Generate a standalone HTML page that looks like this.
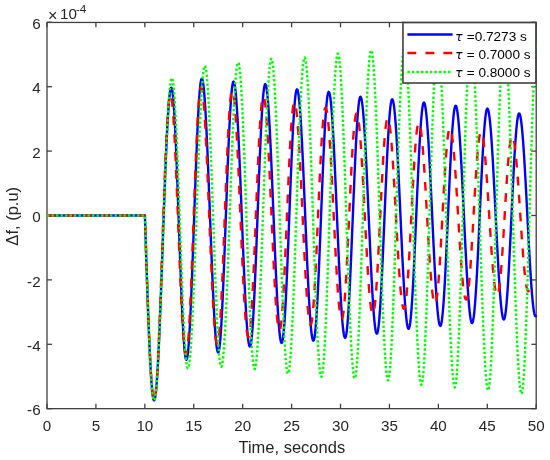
<!DOCTYPE html>
<html><head><meta charset="utf-8"><title>Frequency deviation</title>
<style>
html,body{margin:0;padding:0;background:#fff;}
svg{display:block;}
text{font-family:"Liberation Sans",Arial,Helvetica,sans-serif;}
</style></head><body>
<svg width="550" height="460" viewBox="0 0 550 460">
<rect x="0" y="0" width="550" height="460" fill="#ffffff"/>
<defs><clipPath id="ax"><rect x="47.0" y="22.45" width="490.50" height="386.2"/></clipPath></defs>

<g stroke="#404040" stroke-width="1.3" fill="none">
<rect x="47.0" y="22.45" width="489.20" height="386.20"/>
<line x1="47.00" y1="408.65" x2="47.00" y2="403.75"/>
<line x1="47.00" y1="22.45" x2="47.00" y2="27.35"/>
<line x1="95.92" y1="408.65" x2="95.92" y2="403.75"/>
<line x1="95.92" y1="22.45" x2="95.92" y2="27.35"/>
<line x1="144.84" y1="408.65" x2="144.84" y2="403.75"/>
<line x1="144.84" y1="22.45" x2="144.84" y2="27.35"/>
<line x1="193.76" y1="408.65" x2="193.76" y2="403.75"/>
<line x1="193.76" y1="22.45" x2="193.76" y2="27.35"/>
<line x1="242.68" y1="408.65" x2="242.68" y2="403.75"/>
<line x1="242.68" y1="22.45" x2="242.68" y2="27.35"/>
<line x1="291.60" y1="408.65" x2="291.60" y2="403.75"/>
<line x1="291.60" y1="22.45" x2="291.60" y2="27.35"/>
<line x1="340.52" y1="408.65" x2="340.52" y2="403.75"/>
<line x1="340.52" y1="22.45" x2="340.52" y2="27.35"/>
<line x1="389.44" y1="408.65" x2="389.44" y2="403.75"/>
<line x1="389.44" y1="22.45" x2="389.44" y2="27.35"/>
<line x1="438.36" y1="408.65" x2="438.36" y2="403.75"/>
<line x1="438.36" y1="22.45" x2="438.36" y2="27.35"/>
<line x1="487.28" y1="408.65" x2="487.28" y2="403.75"/>
<line x1="487.28" y1="22.45" x2="487.28" y2="27.35"/>
<line x1="536.20" y1="408.65" x2="536.20" y2="403.75"/>
<line x1="536.20" y1="22.45" x2="536.20" y2="27.35"/>
<line x1="47.0" y1="408.70" x2="51.9" y2="408.70"/>
<line x1="536.2" y1="408.70" x2="531.3000000000001" y2="408.70"/>
<line x1="47.0" y1="344.30" x2="51.9" y2="344.30"/>
<line x1="536.2" y1="344.30" x2="531.3000000000001" y2="344.30"/>
<line x1="47.0" y1="279.90" x2="51.9" y2="279.90"/>
<line x1="536.2" y1="279.90" x2="531.3000000000001" y2="279.90"/>
<line x1="47.0" y1="215.50" x2="51.9" y2="215.50"/>
<line x1="536.2" y1="215.50" x2="531.3000000000001" y2="215.50"/>
<line x1="47.0" y1="151.10" x2="51.9" y2="151.10"/>
<line x1="536.2" y1="151.10" x2="531.3000000000001" y2="151.10"/>
<line x1="47.0" y1="86.70" x2="51.9" y2="86.70"/>
<line x1="536.2" y1="86.70" x2="531.3000000000001" y2="86.70"/>
<line x1="47.0" y1="22.30" x2="51.9" y2="22.30"/>
<line x1="536.2" y1="22.30" x2="531.3000000000001" y2="22.30"/>
</g>
<g clip-path="url(#ax)" fill="none" stroke-linejoin="round">
<path d="M47.00,215.50 L144.90,215.50 L145.22,225.51 L145.53,235.48 L145.85,245.40 L146.17,255.23 L146.49,264.95 L146.80,274.52 L147.12,283.91 L147.44,293.11 L147.76,302.07 L148.07,310.79 L148.39,319.22 L148.71,327.35 L149.02,335.16 L149.34,342.61 L149.66,349.68 L149.98,356.37 L150.29,362.64 L150.61,368.48 L150.93,373.87 L151.24,378.80 L151.56,383.25 L151.88,387.20 L152.20,390.65 L152.51,393.59 L152.83,396.01 L153.15,397.89 L153.47,399.24 L153.78,400.06 L154.10,400.33 L154.51,399.89 L154.92,398.58 L155.33,396.41 L155.74,393.38 L156.15,389.52 L156.56,384.85 L156.97,379.38 L157.38,373.16 L157.79,366.22 L158.20,358.60 L158.60,350.33 L159.01,341.47 L159.42,332.06 L159.83,322.16 L160.24,311.83 L160.65,301.11 L161.06,290.08 L161.47,278.78 L161.88,267.30 L162.29,255.68 L162.70,244.00 L163.11,232.31 L163.52,220.70 L163.93,209.21 L164.34,197.92 L164.75,186.88 L165.16,176.17 L165.57,165.83 L165.98,155.93 L166.39,146.53 L166.80,137.66 L167.20,129.40 L167.61,121.77 L168.02,114.83 L168.43,108.61 L168.84,103.15 L169.25,98.47 L169.66,94.61 L170.07,91.59 L170.48,89.41 L170.89,88.10 L171.30,87.67 L171.72,88.18 L172.14,89.73 L172.56,92.30 L172.98,95.87 L173.40,100.41 L173.82,105.89 L174.24,112.27 L174.66,119.49 L175.08,127.51 L175.49,136.26 L175.91,145.68 L176.33,155.69 L176.75,166.22 L177.17,177.18 L177.59,188.50 L178.01,200.09 L178.43,211.85 L178.85,223.71 L179.27,235.57 L179.69,247.33 L180.11,258.92 L180.53,270.24 L180.95,281.21 L181.37,291.73 L181.79,301.74 L182.21,311.16 L182.62,319.91 L183.04,327.93 L183.46,335.15 L183.88,341.53 L184.30,347.01 L184.72,351.55 L185.14,355.12 L185.56,357.69 L185.98,359.24 L186.40,359.76 L186.82,359.25 L187.23,357.73 L187.65,355.22 L188.06,351.73 L188.48,347.28 L188.90,341.91 L189.31,335.65 L189.73,328.56 L190.15,320.68 L190.56,312.06 L190.98,302.78 L191.39,292.90 L191.81,282.48 L192.23,271.61 L192.64,260.36 L193.06,248.81 L193.48,237.06 L193.89,225.17 L194.31,213.24 L194.72,201.35 L195.14,189.59 L195.56,178.05 L195.97,166.80 L196.39,155.93 L196.81,145.51 L197.22,135.63 L197.64,126.34 L198.05,117.73 L198.47,109.85 L198.89,102.75 L199.30,96.50 L199.72,91.13 L200.14,86.68 L200.55,83.19 L200.97,80.67 L201.38,79.16 L201.80,78.65 L202.22,79.09 L202.64,80.42 L203.06,82.63 L203.48,85.69 L203.89,89.60 L204.31,94.33 L204.73,99.84 L205.15,106.10 L205.57,113.07 L205.99,120.70 L206.41,128.95 L206.83,137.76 L207.25,147.07 L207.67,156.83 L208.08,166.97 L208.50,177.43 L208.92,188.13 L209.34,199.00 L209.76,209.99 L210.18,221.01 L210.60,232.00 L211.02,242.87 L211.44,253.57 L211.86,264.03 L212.27,274.17 L212.69,283.92 L213.11,293.24 L213.53,302.05 L213.95,310.30 L214.37,317.93 L214.79,324.90 L215.21,331.16 L215.63,336.67 L216.05,341.40 L216.46,345.31 L216.88,348.37 L217.30,350.58 L217.72,351.91 L218.14,352.35 L218.56,351.86 L218.97,350.40 L219.39,347.98 L219.80,344.62 L220.22,340.33 L220.64,335.16 L221.05,329.13 L221.47,322.30 L221.88,314.70 L222.30,306.41 L222.72,297.46 L223.13,287.94 L223.55,277.91 L223.96,267.43 L224.38,256.60 L224.80,245.48 L225.21,234.15 L225.63,222.70 L226.04,211.20 L226.46,199.75 L226.87,188.42 L227.29,177.30 L227.71,166.46 L228.12,155.99 L228.54,145.96 L228.95,136.44 L229.37,127.49 L229.79,119.20 L230.20,111.60 L230.62,104.77 L231.03,98.74 L231.45,93.57 L231.87,89.28 L232.28,85.92 L232.70,83.50 L233.11,82.04 L233.53,81.55 L233.95,81.98 L234.37,83.26 L234.79,85.40 L235.21,88.37 L235.63,92.15 L236.05,96.73 L236.46,102.06 L236.88,108.12 L237.30,114.87 L237.72,122.26 L238.14,130.25 L238.56,138.78 L238.98,147.80 L239.40,157.25 L239.82,167.06 L240.24,177.19 L240.66,187.55 L241.08,198.08 L241.50,208.72 L241.91,219.39 L242.33,230.02 L242.75,240.56 L243.17,250.92 L243.59,261.04 L244.01,270.85 L244.43,280.30 L244.85,289.32 L245.27,297.85 L245.69,305.84 L246.11,313.23 L246.53,319.98 L246.95,326.04 L247.36,331.38 L247.78,335.95 L248.20,339.73 L248.62,342.70 L249.04,344.84 L249.46,346.12 L249.88,346.55 L250.30,346.08 L250.71,344.67 L251.13,342.32 L251.54,339.06 L251.96,334.91 L252.37,329.89 L252.79,324.05 L253.21,317.43 L253.62,310.07 L254.04,302.03 L254.45,293.36 L254.87,284.14 L255.28,274.41 L255.70,264.26 L256.12,253.76 L256.53,242.98 L256.95,232.01 L257.36,220.91 L257.78,209.77 L258.19,198.67 L258.61,187.69 L259.02,176.92 L259.44,166.41 L259.86,156.27 L260.27,146.54 L260.69,137.31 L261.10,128.65 L261.52,120.61 L261.93,113.25 L262.35,106.63 L262.77,100.79 L263.18,95.77 L263.60,91.62 L264.01,88.36 L264.43,86.01 L264.84,84.60 L265.26,84.12 L265.68,84.54 L266.10,85.80 L266.52,87.89 L266.94,90.79 L267.36,94.48 L267.78,98.95 L268.20,104.16 L268.62,110.08 L269.04,116.68 L269.45,123.90 L269.87,131.70 L270.29,140.04 L270.71,148.85 L271.13,158.08 L271.55,167.67 L271.97,177.55 L272.39,187.68 L272.81,197.97 L273.23,208.36 L273.65,218.78 L274.07,229.17 L274.49,239.46 L274.91,249.58 L275.33,259.47 L275.75,269.06 L276.17,278.29 L276.59,287.10 L277.01,295.43 L277.43,303.24 L277.84,310.46 L278.26,317.05 L278.68,322.97 L279.10,328.18 L279.52,332.65 L279.94,336.35 L280.36,339.25 L280.78,341.34 L281.20,342.59 L281.62,343.01 L282.04,342.55 L282.45,341.19 L282.87,338.92 L283.28,335.76 L283.70,331.75 L284.11,326.90 L284.53,321.26 L284.94,314.85 L285.36,307.74 L285.77,299.96 L286.19,291.58 L286.60,282.66 L287.02,273.26 L287.44,263.45 L287.85,253.29 L288.27,242.87 L288.68,232.26 L289.10,221.53 L289.51,210.76 L289.93,200.03 L290.34,189.42 L290.76,178.99 L291.17,168.84 L291.59,159.03 L292.01,149.63 L292.42,140.70 L292.84,132.33 L293.25,124.55 L293.67,117.44 L294.08,111.03 L294.50,105.39 L294.91,100.54 L295.33,96.52 L295.74,93.37 L296.16,91.10 L296.57,89.73 L296.99,89.28 L297.41,89.68 L297.83,90.90 L298.25,92.93 L298.67,95.75 L299.09,99.34 L299.51,103.68 L299.93,108.74 L300.35,114.49 L300.77,120.90 L301.19,127.91 L301.61,135.49 L302.03,143.59 L302.45,152.15 L302.87,161.11 L303.29,170.43 L303.71,180.03 L304.13,189.87 L304.55,199.86 L304.97,209.95 L305.38,220.08 L305.80,230.17 L306.22,240.17 L306.64,250.00 L307.06,259.61 L307.48,268.92 L307.90,277.89 L308.32,286.45 L308.74,294.54 L309.16,302.12 L309.58,309.14 L310.00,315.54 L310.42,321.29 L310.84,326.36 L311.26,330.70 L311.68,334.29 L312.10,337.10 L312.52,339.13 L312.94,340.35 L313.36,340.76 L313.78,340.31 L314.19,338.97 L314.61,336.74 L315.02,333.65 L315.44,329.71 L315.85,324.95 L316.27,319.42 L316.68,313.13 L317.10,306.15 L317.51,298.53 L317.93,290.31 L318.34,281.56 L318.76,272.33 L319.17,262.71 L319.59,252.75 L320.00,242.52 L320.42,232.11 L320.83,221.59 L321.25,211.02 L321.66,200.50 L322.08,190.09 L322.49,179.86 L322.91,169.90 L323.32,160.28 L323.74,151.05 L324.15,142.30 L324.57,134.08 L324.98,126.46 L325.40,119.48 L325.81,113.19 L326.23,107.66 L326.64,102.90 L327.06,98.96 L327.47,95.87 L327.89,93.64 L328.30,92.30 L328.72,91.85 L329.14,92.25 L329.56,93.44 L329.98,95.43 L330.40,98.18 L330.82,101.69 L331.24,105.94 L331.66,110.89 L332.08,116.52 L332.50,122.79 L332.92,129.65 L333.34,137.06 L333.76,144.98 L334.18,153.35 L334.60,162.13 L335.02,171.24 L335.44,180.63 L335.86,190.25 L336.28,200.03 L336.70,209.90 L337.12,219.81 L337.54,229.68 L337.96,239.46 L338.38,249.08 L338.80,258.47 L339.22,267.59 L339.64,276.36 L340.06,284.73 L340.48,292.65 L340.90,300.06 L341.32,306.93 L341.74,313.19 L342.16,318.82 L342.58,323.77 L343.00,328.02 L343.42,331.53 L343.84,334.29 L344.26,336.27 L344.68,337.46 L345.10,337.86 L345.51,337.43 L345.93,336.13 L346.34,333.97 L346.76,330.97 L347.17,327.16 L347.59,322.55 L348.00,317.18 L348.42,311.09 L348.83,304.33 L349.25,296.94 L349.66,288.98 L350.08,280.50 L350.49,271.56 L350.91,262.23 L351.32,252.58 L351.74,242.68 L352.15,232.59 L352.57,222.39 L352.98,212.15 L353.40,201.95 L353.81,191.87 L354.23,181.96 L354.64,172.31 L355.06,162.98 L355.47,154.05 L355.89,145.56 L356.30,137.60 L356.72,130.21 L357.13,123.45 L357.55,117.36 L357.96,112.00 L358.38,107.39 L358.79,103.57 L359.21,100.57 L359.62,98.42 L360.04,97.12 L360.45,96.68 L360.87,97.07 L361.29,98.22 L361.71,100.13 L362.13,102.78 L362.55,106.16 L362.97,110.26 L363.39,115.03 L363.81,120.45 L364.23,126.48 L364.65,133.09 L365.07,140.24 L365.49,147.86 L365.91,155.93 L366.33,164.38 L366.75,173.16 L367.17,182.21 L367.59,191.48 L368.01,200.89 L368.43,210.41 L368.86,219.95 L369.28,229.46 L369.70,238.88 L370.12,248.15 L370.54,257.20 L370.96,265.98 L371.38,274.43 L371.80,282.49 L372.22,290.12 L372.64,297.26 L373.06,303.87 L373.48,309.91 L373.90,315.33 L374.32,320.10 L374.74,324.19 L375.16,327.58 L375.58,330.23 L376.00,332.14 L376.42,333.29 L376.84,333.67 L377.25,333.25 L377.67,331.99 L378.08,329.89 L378.50,326.98 L378.91,323.27 L379.33,318.79 L379.74,313.57 L380.16,307.66 L380.57,301.09 L380.99,293.90 L381.40,286.16 L381.82,277.92 L382.23,269.23 L382.64,260.17 L383.06,250.79 L383.47,241.16 L383.89,231.35 L384.30,221.44 L384.72,211.49 L385.13,201.58 L385.55,191.77 L385.96,182.14 L386.38,172.76 L386.79,163.70 L387.20,155.01 L387.62,146.77 L388.03,139.03 L388.45,131.85 L388.86,125.27 L389.28,119.36 L389.69,114.14 L390.11,109.66 L390.52,105.95 L390.94,103.04 L391.35,100.94 L391.77,99.68 L392.18,99.26 L392.60,99.63 L393.02,100.74 L393.44,102.59 L393.86,105.17 L394.28,108.44 L394.70,112.41 L395.12,117.03 L395.54,122.28 L395.96,128.13 L396.39,134.53 L396.81,141.45 L397.23,148.84 L397.65,156.65 L398.07,164.84 L398.49,173.34 L398.91,182.11 L399.33,191.09 L399.75,200.21 L400.17,209.43 L400.59,218.67 L401.01,227.89 L401.43,237.01 L401.85,245.99 L402.27,254.76 L402.69,263.26 L403.11,271.45 L403.53,279.26 L403.95,286.65 L404.37,293.57 L404.80,299.97 L405.22,305.82 L405.64,311.07 L406.06,315.70 L406.48,319.66 L406.90,322.94 L407.32,325.51 L407.74,327.36 L408.16,328.47 L408.58,328.84 L408.99,328.44 L409.41,327.22 L409.82,325.19 L410.24,322.38 L410.65,318.80 L411.07,314.47 L411.48,309.43 L411.89,303.72 L412.31,297.37 L412.72,290.44 L413.14,282.96 L413.55,275.00 L413.97,266.62 L414.38,257.86 L414.79,248.80 L415.21,239.51 L415.62,230.04 L416.04,220.46 L416.45,210.86 L416.87,201.28 L417.28,191.82 L417.70,182.52 L418.11,173.46 L418.52,164.71 L418.94,156.32 L419.35,148.36 L419.77,140.88 L420.18,133.95 L420.60,127.60 L421.01,121.89 L421.42,116.85 L421.84,112.53 L422.25,108.94 L422.67,106.13 L423.08,104.11 L423.50,102.89 L423.91,102.48 L424.32,102.82 L424.73,103.85 L425.14,105.57 L425.55,107.95 L425.96,110.98 L426.37,114.66 L426.78,118.94 L427.19,123.82 L427.60,129.25 L428.01,135.20 L428.42,141.65 L428.83,148.54 L429.24,155.83 L429.65,163.49 L430.06,171.45 L430.47,179.68 L430.88,188.13 L431.29,196.73 L431.70,205.45 L432.12,214.21 L432.53,222.98 L432.94,231.69 L433.35,240.30 L433.76,248.74 L434.17,256.97 L434.58,264.94 L434.99,272.59 L435.40,279.89 L435.81,286.78 L436.22,293.22 L436.63,299.18 L437.04,304.61 L437.45,309.48 L437.86,313.77 L438.27,317.44 L438.68,320.48 L439.09,322.86 L439.50,324.57 L439.91,325.60 L440.32,325.95 L440.73,325.55 L441.15,324.36 L441.56,322.39 L441.98,319.66 L442.39,316.17 L442.80,311.96 L443.22,307.06 L443.63,301.50 L444.05,295.33 L444.46,288.58 L444.87,281.31 L445.29,273.56 L445.70,265.40 L446.12,256.88 L446.53,248.07 L446.94,239.02 L447.36,229.81 L447.77,220.50 L448.19,211.15 L448.60,201.83 L449.02,192.62 L449.43,183.58 L449.84,174.76 L450.26,166.24 L450.67,158.08 L451.09,150.34 L451.50,143.07 L451.91,136.32 L452.33,130.14 L452.74,124.58 L453.16,119.68 L453.57,115.47 L453.98,111.99 L454.40,109.25 L454.81,107.28 L455.23,106.09 L455.64,105.70 L456.05,106.03 L456.46,107.04 L456.87,108.70 L457.28,111.02 L457.69,113.97 L458.10,117.54 L458.51,121.71 L458.92,126.45 L459.33,131.74 L459.75,137.53 L460.16,143.79 L460.57,150.50 L460.98,157.59 L461.39,165.04 L461.80,172.78 L462.21,180.79 L462.62,189.00 L463.03,197.37 L463.44,205.85 L463.85,214.37 L464.26,222.90 L464.67,231.37 L465.08,239.74 L465.49,247.96 L465.90,255.96 L466.31,263.71 L466.72,271.16 L467.13,278.25 L467.54,284.95 L467.95,291.22 L468.37,297.01 L468.78,302.29 L469.19,307.03 L469.60,311.20 L470.01,314.78 L470.42,317.73 L470.83,320.05 L471.24,321.71 L471.65,322.71 L472.06,323.05 L472.47,322.66 L472.89,321.51 L473.30,319.59 L473.72,316.92 L474.13,313.53 L474.54,309.43 L474.96,304.66 L475.37,299.25 L475.78,293.23 L476.20,286.66 L476.61,279.58 L477.03,272.04 L477.44,264.10 L477.85,255.80 L478.27,247.22 L478.68,238.41 L479.09,229.44 L479.51,220.37 L479.92,211.27 L480.34,202.20 L480.75,193.23 L481.16,184.42 L481.58,175.84 L481.99,167.55 L482.40,159.60 L482.82,152.06 L483.23,144.98 L483.65,138.41 L484.06,132.40 L484.47,126.98 L484.89,122.21 L485.30,118.11 L485.71,114.72 L486.13,112.06 L486.54,110.14 L486.96,108.98 L487.37,108.60 L487.78,108.92 L488.19,109.89 L488.60,111.51 L489.01,113.76 L489.42,116.62 L489.83,120.09 L490.25,124.14 L490.66,128.74 L491.07,133.86 L491.48,139.48 L491.89,145.56 L492.30,152.07 L492.71,158.95 L493.12,166.18 L493.53,173.70 L493.94,181.46 L494.35,189.43 L494.76,197.55 L495.17,205.78 L495.58,214.05 L496.00,222.32 L496.41,230.55 L496.82,238.67 L497.23,246.64 L497.64,254.41 L498.05,261.93 L498.46,269.15 L498.87,276.04 L499.28,282.54 L499.69,288.62 L500.10,294.24 L500.51,299.37 L500.92,303.97 L501.34,308.01 L501.75,311.48 L502.16,314.34 L502.57,316.59 L502.98,318.21 L503.39,319.18 L503.80,319.51 L504.21,319.13 L504.63,318.02 L505.04,316.18 L505.45,313.62 L505.87,310.36 L506.28,306.42 L506.69,301.84 L507.11,296.63 L507.52,290.86 L507.94,284.54 L508.35,277.74 L508.76,270.49 L509.18,262.85 L509.59,254.89 L510.00,246.64 L510.42,238.17 L510.83,229.55 L511.24,220.84 L511.66,212.09 L512.07,203.38 L512.48,194.76 L512.90,186.29 L513.31,178.05 L513.72,170.08 L514.14,162.44 L514.55,155.19 L514.96,148.39 L515.38,142.08 L515.79,136.30 L516.21,131.10 L516.62,126.51 L517.03,122.57 L517.45,119.31 L517.86,116.75 L518.27,114.91 L518.69,113.80 L519.10,113.43 L519.51,113.74 L519.92,114.67 L520.33,116.23 L520.74,118.39 L521.15,121.15 L521.57,124.48 L521.98,128.37 L522.39,132.80 L522.80,137.73 L523.21,143.13 L523.62,148.98 L524.03,155.24 L524.44,161.86 L524.85,168.81 L525.26,176.04 L525.68,183.51 L526.09,191.18 L526.50,198.99 L526.91,206.90 L527.32,214.86 L527.73,222.81 L528.14,230.72 L528.55,238.53 L528.96,246.20 L529.38,253.67 L529.79,260.90 L530.20,267.85 L530.61,274.48 L531.02,280.73 L531.43,286.58 L531.84,291.98 L532.25,296.91 L532.66,301.34 L533.07,305.23 L533.49,308.57 L533.90,311.32 L534.31,313.48 L534.72,315.04 L535.13,315.97 L535.54,316.29 L535.95,315.93 L536.20,315.28" stroke="#0000ff" stroke-width="2.4"/>
<path d="M47.00,215.50 L144.90,215.50 L145.22,225.51 L145.53,235.48 L145.85,245.40 L146.17,255.23 L146.49,264.95 L146.80,274.52 L147.12,283.91 L147.44,293.11 L147.76,302.07 L148.07,310.79 L148.39,319.22 L148.71,327.35 L149.02,335.16 L149.34,342.61 L149.66,349.68 L149.98,356.37 L150.29,362.64 L150.61,368.48 L150.93,373.87 L151.24,378.80 L151.56,383.25 L151.88,387.20 L152.20,390.65 L152.51,393.59 L152.83,396.01 L153.15,397.89 L153.47,399.24 L153.78,400.06 L154.10,400.33 L154.52,399.83 L154.94,398.35 L155.35,395.88 L155.77,392.46 L156.19,388.09 L156.61,382.81 L157.03,376.65 L157.44,369.65 L157.86,361.86 L158.28,353.33 L158.70,344.11 L159.12,334.26 L159.53,323.85 L159.95,312.95 L160.37,301.61 L160.79,289.93 L161.21,277.97 L161.62,265.81 L162.04,253.54 L162.46,241.22 L162.88,228.94 L163.29,216.78 L163.71,204.82 L164.13,193.14 L164.55,181.81 L164.97,170.90 L165.38,160.49 L165.80,150.65 L166.22,141.43 L166.64,132.89 L167.06,125.10 L167.47,118.11 L167.89,111.95 L168.31,106.67 L168.73,102.30 L169.15,98.87 L169.56,96.41 L169.98,94.92 L170.40,94.43 L170.82,94.90 L171.24,96.30 L171.66,98.62 L172.09,101.85 L172.51,105.96 L172.93,110.93 L173.35,116.71 L173.77,123.27 L174.19,130.55 L174.62,138.52 L175.04,147.10 L175.46,156.23 L175.88,165.86 L176.30,175.91 L176.72,186.31 L177.15,196.98 L177.57,207.85 L177.99,218.84 L178.41,229.87 L178.83,240.86 L179.25,251.73 L179.68,262.40 L180.10,272.80 L180.52,282.85 L180.94,292.48 L181.36,301.61 L181.78,310.19 L182.21,318.16 L182.63,325.44 L183.05,332.00 L183.47,337.78 L183.89,342.75 L184.31,346.86 L184.74,350.09 L185.16,352.41 L185.58,353.81 L186.00,354.28 L186.42,353.77 L186.84,352.25 L187.26,349.73 L187.68,346.22 L188.10,341.76 L188.52,336.38 L188.94,330.12 L189.36,323.02 L189.78,315.14 L190.19,306.55 L190.61,297.30 L191.03,287.47 L191.45,277.13 L191.87,266.36 L192.29,255.24 L192.71,243.86 L193.13,232.30 L193.55,220.65 L193.97,209.01 L194.39,197.45 L194.81,186.07 L195.23,174.95 L195.65,164.18 L196.07,153.84 L196.49,144.00 L196.91,134.76 L197.32,126.16 L197.74,118.29 L198.16,111.19 L198.58,104.93 L199.00,99.54 L199.42,95.08 L199.84,91.58 L200.26,89.05 L200.68,87.53 L201.10,87.02 L201.52,87.44 L201.93,88.69 L202.35,90.76 L202.76,93.64 L203.18,97.32 L203.59,101.76 L204.01,106.94 L204.42,112.82 L204.84,119.37 L205.25,126.55 L205.67,134.30 L206.08,142.59 L206.50,151.34 L206.92,160.51 L207.33,170.04 L207.75,179.87 L208.16,189.93 L208.58,200.16 L208.99,210.48 L209.41,220.84 L209.82,231.17 L210.24,241.39 L210.65,251.45 L211.07,261.28 L211.48,270.81 L211.90,279.98 L212.32,288.74 L212.73,297.02 L213.15,304.77 L213.56,311.95 L213.98,318.50 L214.39,324.39 L214.81,329.57 L215.22,334.01 L215.64,337.68 L216.05,340.56 L216.47,342.63 L216.88,343.88 L217.30,344.30 L217.71,343.82 L218.13,342.37 L218.54,339.97 L218.96,336.64 L219.37,332.40 L219.78,327.28 L220.20,321.33 L220.61,314.58 L221.03,307.09 L221.44,298.92 L221.85,290.13 L222.27,280.79 L222.68,270.96 L223.09,260.72 L223.51,250.15 L223.92,239.33 L224.34,228.34 L224.75,217.27 L225.16,206.20 L225.58,195.21 L225.99,184.39 L226.41,173.82 L226.82,163.59 L227.23,153.76 L227.65,144.41 L228.06,135.62 L228.47,127.45 L228.89,119.96 L229.30,113.21 L229.72,107.26 L230.13,102.14 L230.54,97.90 L230.96,94.57 L231.37,92.17 L231.79,90.73 L232.20,90.24 L232.62,90.64 L233.03,91.84 L233.45,93.83 L233.86,96.59 L234.28,100.11 L234.69,104.37 L235.11,109.33 L235.52,114.98 L235.94,121.26 L236.35,128.14 L236.77,135.57 L237.18,143.51 L237.60,151.90 L238.02,160.70 L238.43,169.84 L238.85,179.26 L239.26,188.90 L239.68,198.70 L240.09,208.60 L240.51,218.53 L240.92,228.43 L241.34,238.24 L241.75,247.88 L242.17,257.30 L242.58,266.44 L243.00,275.23 L243.42,283.63 L243.83,291.56 L244.25,299.00 L244.66,305.88 L245.08,312.16 L245.49,317.80 L245.91,322.77 L246.32,327.03 L246.74,330.55 L247.15,333.31 L247.57,335.30 L247.98,336.49 L248.40,336.89 L248.81,336.44 L249.23,335.07 L249.64,332.80 L250.06,329.64 L250.47,325.63 L250.88,320.78 L251.30,315.14 L251.71,308.76 L252.12,301.67 L252.54,293.93 L252.95,285.61 L253.37,276.76 L253.78,267.45 L254.19,257.76 L254.61,247.75 L255.02,237.51 L255.44,227.11 L255.85,216.63 L256.26,206.15 L256.68,195.74 L257.09,185.50 L257.51,175.49 L257.92,165.80 L258.33,156.49 L258.75,147.64 L259.16,139.32 L259.57,131.59 L259.99,124.50 L260.40,118.11 L260.82,112.47 L261.23,107.63 L261.64,103.61 L262.06,100.46 L262.47,98.19 L262.89,96.82 L263.30,96.36 L263.72,96.74 L264.13,97.88 L264.55,99.76 L264.96,102.38 L265.38,105.73 L265.79,109.77 L266.21,114.48 L266.62,119.83 L267.04,125.80 L267.45,132.33 L267.87,139.38 L268.28,146.92 L268.70,154.88 L269.12,163.23 L269.53,171.90 L269.95,180.84 L270.36,189.99 L270.78,199.30 L271.19,208.69 L271.61,218.12 L272.02,227.52 L272.44,236.82 L272.85,245.97 L273.27,254.91 L273.68,263.58 L274.10,271.93 L274.52,279.90 L274.93,287.43 L275.35,294.49 L275.76,301.02 L276.18,306.98 L276.59,312.33 L277.01,317.05 L277.42,321.09 L277.84,324.43 L278.25,327.05 L278.67,328.94 L279.08,330.07 L279.50,330.45 L279.91,330.02 L280.33,328.72 L280.74,326.56 L281.16,323.57 L281.57,319.76 L281.98,315.16 L282.40,309.81 L282.81,303.75 L283.23,297.02 L283.64,289.68 L284.05,281.78 L284.47,273.38 L284.88,264.55 L285.29,255.35 L285.71,245.85 L286.12,236.13 L286.54,226.25 L286.95,216.31 L287.36,206.36 L287.78,196.48 L288.19,186.76 L288.61,177.26 L289.02,168.06 L289.43,159.23 L289.85,150.83 L290.26,142.93 L290.67,135.59 L291.09,128.86 L291.50,122.80 L291.92,117.45 L292.33,112.85 L292.74,109.04 L293.16,106.05 L293.57,103.89 L293.99,102.59 L294.40,102.16 L294.82,102.52 L295.23,103.60 L295.65,105.39 L296.06,107.88 L296.48,111.06 L296.89,114.90 L297.31,119.38 L297.72,124.47 L298.14,130.13 L298.55,136.34 L298.97,143.05 L299.38,150.21 L299.80,157.78 L300.22,165.71 L300.63,173.96 L301.05,182.46 L301.46,191.15 L301.88,200.00 L302.29,208.93 L302.71,217.89 L303.12,226.82 L303.54,235.66 L303.95,244.36 L304.37,252.86 L304.78,261.10 L305.20,269.03 L305.62,276.60 L306.03,283.77 L306.45,290.47 L306.86,296.68 L307.28,302.35 L307.69,307.44 L308.11,311.91 L308.52,315.76 L308.94,318.93 L309.35,321.43 L309.77,323.22 L310.18,324.30 L310.60,324.66 L311.01,324.25 L311.43,323.01 L311.84,320.96 L312.26,318.11 L312.67,314.49 L313.08,310.12 L313.50,305.03 L313.91,299.27 L314.33,292.87 L314.74,285.90 L315.15,278.39 L315.57,270.40 L315.98,262.00 L316.39,253.26 L316.81,244.23 L317.22,234.99 L317.64,225.60 L318.05,216.14 L318.46,206.69 L318.88,197.30 L319.29,188.06 L319.71,179.03 L320.12,170.28 L320.53,161.89 L320.95,153.90 L321.36,146.39 L321.77,139.41 L322.19,133.02 L322.60,127.25 L323.02,122.17 L323.43,117.80 L323.84,114.17 L324.26,111.33 L324.67,109.28 L325.09,108.04 L325.50,107.63 L325.92,107.97 L326.33,109.00 L326.75,110.70 L327.16,113.07 L327.58,116.09 L327.99,119.75 L328.41,124.01 L328.82,128.84 L329.24,134.23 L329.65,140.13 L330.07,146.51 L330.48,153.32 L330.90,160.52 L331.32,168.06 L331.73,175.90 L332.15,183.98 L332.56,192.25 L332.98,200.66 L333.39,209.15 L333.81,217.67 L334.22,226.16 L334.64,234.57 L335.05,242.84 L335.47,250.92 L335.88,258.75 L336.30,266.30 L336.72,273.50 L337.13,280.31 L337.55,286.68 L337.96,292.58 L338.38,297.97 L338.79,302.81 L339.21,307.07 L339.62,310.72 L340.04,313.74 L340.45,316.11 L340.87,317.81 L341.28,318.84 L341.70,319.18 L342.11,318.79 L342.53,317.62 L342.94,315.68 L343.36,312.98 L343.77,309.55 L344.18,305.40 L344.60,300.58 L345.01,295.11 L345.43,289.05 L345.84,282.43 L346.25,275.31 L346.67,267.74 L347.08,259.78 L347.49,251.49 L347.91,242.93 L348.32,234.17 L348.74,225.27 L349.15,216.31 L349.56,207.34 L349.98,198.44 L350.39,189.68 L350.81,181.12 L351.22,172.83 L351.63,164.87 L352.05,157.30 L352.46,150.18 L352.88,143.56 L353.29,137.50 L353.70,132.03 L354.12,127.21 L354.53,123.06 L354.94,119.63 L355.36,116.93 L355.77,114.99 L356.19,113.82 L356.60,113.43 L357.02,113.75 L357.43,114.72 L357.85,116.34 L358.26,118.58 L358.68,121.45 L359.09,124.91 L359.51,128.94 L359.92,133.53 L360.34,138.63 L360.75,144.22 L361.17,150.26 L361.58,156.72 L362.00,163.54 L362.42,170.68 L362.83,178.11 L363.25,185.76 L363.66,193.60 L364.08,201.57 L364.49,209.61 L364.91,217.68 L365.32,225.73 L365.74,233.70 L366.15,241.53 L366.57,249.19 L366.98,256.61 L367.40,263.76 L367.82,270.58 L368.23,277.03 L368.65,283.08 L369.06,288.67 L369.48,293.77 L369.89,298.36 L370.31,302.39 L370.72,305.85 L371.14,308.71 L371.55,310.96 L371.97,312.57 L372.38,313.55 L372.80,313.87 L373.21,313.50 L373.63,312.39 L374.04,310.54 L374.46,307.97 L374.87,304.71 L375.28,300.77 L375.70,296.18 L376.11,290.99 L376.53,285.22 L376.94,278.93 L377.35,272.16 L377.77,264.97 L378.18,257.40 L378.59,249.52 L379.01,241.38 L379.42,233.05 L379.84,224.59 L380.25,216.06 L380.66,207.54 L381.08,199.08 L381.49,190.75 L381.91,182.61 L382.32,174.73 L382.73,167.16 L383.15,159.96 L383.56,153.19 L383.98,146.90 L384.39,141.14 L384.80,135.94 L385.22,131.36 L385.63,127.42 L386.04,124.15 L386.46,121.59 L386.87,119.74 L387.29,118.63 L387.70,118.26 L388.12,118.57 L388.53,119.49 L388.95,121.03 L389.36,123.16 L389.78,125.88 L390.19,129.17 L390.61,133.01 L391.02,137.37 L391.44,142.23 L391.85,147.54 L392.27,153.29 L392.68,159.42 L393.10,165.91 L393.52,172.71 L393.93,179.77 L394.35,187.05 L394.76,194.50 L395.18,202.08 L395.59,209.73 L396.01,217.41 L396.42,225.06 L396.84,232.63 L397.25,240.09 L397.67,247.37 L398.08,254.43 L398.50,261.22 L398.92,267.71 L399.33,273.85 L399.75,279.59 L400.16,284.91 L400.58,289.76 L400.99,294.12 L401.41,297.96 L401.82,301.25 L402.24,303.97 L402.65,306.11 L403.07,307.65 L403.48,308.57 L403.90,308.88 L404.31,308.53 L404.73,307.47 L405.14,305.71 L405.56,303.27 L405.97,300.16 L406.38,296.41 L406.80,292.05 L407.21,287.11 L407.62,281.62 L408.04,275.64 L408.45,269.20 L408.87,262.35 L409.28,255.15 L409.69,247.65 L410.11,239.91 L410.52,231.98 L410.94,223.93 L411.35,215.82 L411.76,207.71 L412.18,199.66 L412.59,191.74 L413.01,183.99 L413.42,176.49 L413.83,169.29 L414.25,162.45 L414.66,156.01 L415.08,150.02 L415.49,144.54 L415.90,139.59 L416.32,135.23 L416.73,131.48 L417.14,128.38 L417.56,125.93 L417.97,124.18 L418.39,123.12 L418.80,122.76 L419.22,123.06 L419.63,123.94 L420.05,125.40 L420.46,127.43 L420.88,130.02 L421.29,133.15 L421.71,136.80 L422.12,140.94 L422.54,145.56 L422.95,150.62 L423.37,156.08 L423.78,161.92 L424.20,168.09 L424.62,174.55 L425.03,181.26 L425.45,188.19 L425.86,195.28 L426.28,202.48 L426.69,209.76 L427.11,217.06 L427.52,224.33 L427.94,231.54 L428.35,238.63 L428.77,245.55 L429.18,252.26 L429.60,258.73 L430.02,264.90 L430.43,270.73 L430.85,276.20 L431.26,281.25 L431.68,285.87 L432.09,290.02 L432.51,293.67 L432.92,296.80 L433.34,299.39 L433.75,301.42 L434.17,302.88 L434.58,303.76 L435.00,304.05 L435.41,303.72 L435.83,302.71 L436.24,301.05 L436.66,298.75 L437.07,295.81 L437.48,292.27 L437.90,288.15 L438.31,283.48 L438.73,278.30 L439.14,272.65 L439.55,266.56 L439.97,260.10 L440.38,253.29 L440.79,246.21 L441.21,238.90 L441.62,231.41 L442.04,223.81 L442.45,216.14 L442.86,208.48 L443.28,200.88 L443.69,193.39 L444.11,186.08 L444.52,178.99 L444.93,172.19 L445.35,165.72 L445.76,159.64 L446.17,153.99 L446.59,148.80 L447.00,144.14 L447.42,140.02 L447.83,136.47 L448.24,133.54 L448.66,131.23 L449.07,129.57 L449.49,128.57 L449.90,128.24 L450.32,128.52 L450.73,129.35 L451.15,130.73 L451.56,132.65 L451.98,135.09 L452.39,138.05 L452.81,141.50 L453.22,145.42 L453.64,149.78 L454.05,154.56 L454.47,159.72 L454.88,165.23 L455.30,171.06 L455.72,177.17 L456.13,183.52 L456.55,190.06 L456.96,196.76 L457.38,203.57 L457.79,210.44 L458.21,217.34 L458.62,224.21 L459.04,231.02 L459.45,237.72 L459.87,244.26 L460.28,250.61 L460.70,256.72 L461.12,262.55 L461.53,268.06 L461.95,273.22 L462.36,278.00 L462.78,282.36 L463.19,286.28 L463.61,289.73 L464.02,292.69 L464.44,295.13 L464.85,297.05 L465.27,298.43 L465.68,299.26 L466.10,299.54 L466.51,299.22 L466.93,298.27 L467.34,296.69 L467.76,294.49 L468.17,291.70 L468.58,288.33 L469.00,284.40 L469.41,279.96 L469.83,275.02 L470.24,269.64 L470.65,263.84 L471.07,257.68 L471.48,251.20 L471.89,244.46 L472.31,237.49 L472.72,230.36 L473.14,223.12 L473.55,215.82 L473.96,208.53 L474.38,201.28 L474.79,194.15 L475.21,187.19 L475.62,180.44 L476.03,173.96 L476.45,167.80 L476.86,162.01 L477.27,156.62 L477.69,151.69 L478.10,147.24 L478.52,143.32 L478.93,139.95 L479.34,137.15 L479.76,134.95 L480.17,133.37 L480.59,132.42 L481.00,132.10 L481.42,132.37 L481.83,133.16 L482.25,134.47 L482.66,136.30 L483.08,138.63 L483.49,141.45 L483.91,144.74 L484.32,148.47 L484.74,152.63 L485.15,157.18 L485.57,162.10 L485.98,167.36 L486.40,172.92 L486.82,178.74 L487.23,184.78 L487.65,191.02 L488.06,197.40 L488.48,203.89 L488.89,210.44 L489.31,217.02 L489.72,223.57 L490.14,230.06 L490.55,236.44 L490.97,242.67 L491.38,248.72 L491.80,254.54 L492.22,260.10 L492.63,265.35 L493.05,270.27 L493.46,274.83 L493.88,278.99 L494.29,282.72 L494.71,286.01 L495.12,288.82 L495.54,291.16 L495.95,292.98 L496.37,294.30 L496.78,295.09 L497.20,295.36 L497.61,295.05 L498.03,294.15 L498.44,292.64 L498.86,290.55 L499.27,287.89 L499.68,284.68 L500.10,280.94 L500.51,276.71 L500.93,272.01 L501.34,266.89 L501.75,261.37 L502.17,255.51 L502.58,249.34 L502.99,242.92 L503.41,236.29 L503.82,229.50 L504.24,222.61 L504.65,215.66 L505.06,208.72 L505.48,201.82 L505.89,195.03 L506.31,188.40 L506.72,181.98 L507.13,175.81 L507.55,169.95 L507.96,164.43 L508.38,159.31 L508.79,154.61 L509.20,150.38 L509.62,146.64 L510.03,143.43 L510.44,140.77 L510.86,138.68 L511.27,137.18 L511.69,136.27 L512.10,135.97 L512.52,136.22 L512.93,136.97 L513.35,138.22 L513.76,139.96 L514.18,142.18 L514.59,144.85 L515.01,147.98 L515.42,151.53 L515.84,155.48 L516.25,159.81 L516.67,164.49 L517.08,169.49 L517.50,174.77 L517.92,180.30 L518.33,186.05 L518.75,191.98 L519.16,198.05 L519.58,204.21 L519.99,210.44 L520.41,216.69 L520.82,222.92 L521.24,229.09 L521.65,235.16 L522.07,241.09 L522.48,246.84 L522.90,252.37 L523.32,257.65 L523.73,262.65 L524.15,267.32 L524.56,271.65 L524.98,275.61 L525.39,279.16 L525.81,282.28 L526.22,284.96 L526.64,287.18 L527.05,288.92 L527.47,290.17 L527.88,290.92 L528.30,291.17 L528.71,291.17 L529.12,291.16 L529.53,291.15 L529.94,291.14 L530.35,291.13 L530.76,291.11 L531.16,291.08 L531.57,291.06 L531.98,291.03 L532.39,290.99 L532.80,290.96 L533.21,290.92 L533.62,290.87 L534.03,290.83 L534.44,290.78 L534.85,290.73 L535.26,290.67 L535.67,290.62 L536.08,290.56 L536.20,290.54" stroke="#ff0000" stroke-width="2.4" stroke-dasharray="8.8 9.2"/>
<path d="M47.00,215.50 L144.90,215.50 L145.22,225.51 L145.53,235.48 L145.85,245.40 L146.17,255.23 L146.49,264.95 L146.80,274.52 L147.12,283.91 L147.44,293.11 L147.76,302.07 L148.07,310.79 L148.39,319.22 L148.71,327.35 L149.02,335.16 L149.34,342.61 L149.66,349.68 L149.98,356.37 L150.29,362.64 L150.61,368.48 L150.93,373.87 L151.24,378.80 L151.56,383.25 L151.88,387.20 L152.20,390.65 L152.51,393.59 L152.83,396.01 L153.15,397.89 L153.47,399.24 L153.78,400.06 L154.10,400.33 L154.51,399.90 L154.92,398.61 L155.33,396.47 L155.75,393.49 L156.16,389.69 L156.57,385.09 L156.98,379.71 L157.39,373.57 L157.80,366.73 L158.22,359.20 L158.63,351.02 L159.04,342.26 L159.45,332.94 L159.86,323.12 L160.27,312.86 L160.69,302.20 L161.10,291.20 L161.51,279.93 L161.92,268.44 L162.33,256.79 L162.74,245.05 L163.16,233.28 L163.57,221.54 L163.98,209.89 L164.39,198.40 L164.80,187.13 L165.21,176.14 L165.63,165.48 L166.04,155.21 L166.45,145.39 L166.86,136.08 L167.27,127.31 L167.68,119.14 L168.10,111.61 L168.51,104.76 L168.92,98.63 L169.33,93.24 L169.74,88.64 L170.15,84.84 L170.57,81.86 L170.98,79.72 L171.39,78.44 L171.80,78.01 L172.21,78.48 L172.63,79.89 L173.04,82.23 L173.45,85.48 L173.86,89.63 L174.28,94.64 L174.69,100.49 L175.10,107.13 L175.52,114.53 L175.93,122.63 L176.34,131.38 L176.75,140.73 L177.17,150.62 L177.58,160.97 L177.99,171.73 L178.41,182.82 L178.82,194.18 L179.23,205.72 L179.64,217.38 L180.06,229.08 L180.47,240.73 L180.88,252.28 L181.29,263.63 L181.71,274.72 L182.12,285.48 L182.53,295.84 L182.95,305.72 L183.36,315.07 L183.77,323.83 L184.18,331.93 L184.60,339.32 L185.01,345.97 L185.42,351.82 L185.84,356.83 L186.25,360.98 L186.66,364.23 L187.07,366.57 L187.49,367.98 L187.90,368.45 L188.31,368.01 L188.73,366.68 L189.14,364.47 L189.56,361.40 L189.97,357.48 L190.39,352.74 L190.80,347.20 L191.22,340.90 L191.63,333.87 L192.05,326.15 L192.46,317.80 L192.88,308.86 L193.29,299.37 L193.70,289.41 L194.12,279.02 L194.53,268.27 L194.95,257.21 L195.36,245.92 L195.78,234.47 L196.19,222.91 L196.61,211.31 L197.02,199.75 L197.44,188.30 L197.85,177.01 L198.27,165.95 L198.68,155.20 L199.10,144.81 L199.51,134.85 L199.92,125.36 L200.34,116.42 L200.75,108.07 L201.17,100.35 L201.58,93.32 L202.00,87.02 L202.41,81.48 L202.83,76.74 L203.24,72.82 L203.66,69.75 L204.07,67.54 L204.49,66.21 L204.90,65.77 L205.32,66.26 L205.74,67.72 L206.16,70.14 L206.58,73.52 L207.00,77.82 L207.42,83.01 L207.84,89.07 L208.26,95.96 L208.68,103.63 L209.09,112.03 L209.51,121.10 L209.93,130.79 L210.35,141.04 L210.77,151.77 L211.19,162.92 L211.61,174.42 L212.03,186.19 L212.45,198.16 L212.87,210.24 L213.29,222.37 L213.71,234.45 L214.13,246.42 L214.55,258.19 L214.97,269.69 L215.39,280.84 L215.81,291.57 L216.23,301.82 L216.65,311.51 L217.07,320.58 L217.48,328.98 L217.90,336.65 L218.32,343.54 L218.74,349.60 L219.16,354.79 L219.58,359.09 L220.00,362.47 L220.42,364.89 L220.84,366.35 L221.26,366.84 L221.67,366.39 L222.08,365.06 L222.50,362.84 L222.91,359.75 L223.32,355.81 L223.73,351.04 L224.14,345.47 L224.56,339.14 L224.97,332.07 L225.38,324.32 L225.79,315.92 L226.20,306.93 L226.62,297.40 L227.03,287.38 L227.44,276.93 L227.85,266.12 L228.26,255.01 L228.68,243.66 L229.09,232.14 L229.50,220.52 L229.91,208.87 L230.32,197.25 L230.73,185.73 L231.15,174.38 L231.56,163.27 L231.97,152.46 L232.38,142.01 L232.79,131.99 L233.21,122.46 L233.62,113.47 L234.03,105.07 L234.44,97.32 L234.85,90.25 L235.27,83.92 L235.68,78.35 L236.09,73.58 L236.50,69.64 L236.91,66.55 L237.33,64.33 L237.74,63.00 L238.15,62.55 L238.56,63.02 L238.97,64.44 L239.39,66.78 L239.80,70.05 L240.21,74.22 L240.62,79.26 L241.03,85.14 L241.44,91.82 L241.86,99.27 L242.27,107.44 L242.68,116.28 L243.09,125.73 L243.50,135.74 L243.91,146.24 L244.33,157.17 L244.74,168.46 L245.15,180.04 L245.56,191.84 L245.97,203.80 L246.38,215.82 L246.80,227.85 L247.21,239.80 L247.62,251.60 L248.03,263.19 L248.44,274.48 L248.86,285.41 L249.27,295.91 L249.68,305.91 L250.09,315.36 L250.50,324.20 L250.91,332.37 L251.33,339.82 L251.74,346.51 L252.15,352.39 L252.56,357.43 L252.97,361.59 L253.38,364.86 L253.80,367.21 L254.21,368.62 L254.62,369.09 L255.04,368.62 L255.46,367.18 L255.88,364.81 L256.30,361.50 L256.72,357.28 L257.14,352.18 L257.56,346.22 L257.98,339.45 L258.40,331.91 L258.81,323.64 L259.23,314.69 L259.65,305.12 L260.07,294.98 L260.49,284.35 L260.91,273.28 L261.33,261.85 L261.75,250.12 L262.17,238.17 L262.59,226.07 L263.01,213.89 L263.43,201.71 L263.85,189.61 L264.27,177.66 L264.69,165.93 L265.11,154.50 L265.53,143.43 L265.95,132.80 L266.37,122.66 L266.79,113.09 L267.20,104.14 L267.62,95.87 L268.04,88.33 L268.46,81.56 L268.88,75.60 L269.30,70.50 L269.72,66.28 L270.14,62.97 L270.56,60.60 L270.98,59.16 L271.40,58.69 L271.81,59.17 L272.23,60.62 L272.64,63.04 L273.06,66.39 L273.47,70.67 L273.89,75.85 L274.30,81.89 L274.72,88.76 L275.13,96.41 L275.54,104.80 L275.96,113.88 L276.37,123.59 L276.79,133.87 L277.20,144.66 L277.62,155.89 L278.03,167.49 L278.45,179.39 L278.86,191.51 L279.28,203.79 L279.69,216.14 L280.10,228.50 L280.52,240.78 L280.93,252.90 L281.35,264.80 L281.76,276.40 L282.18,287.63 L282.59,298.42 L283.01,308.70 L283.42,318.40 L283.84,327.48 L284.25,335.88 L284.66,343.53 L285.08,350.40 L285.49,356.44 L285.91,361.62 L286.32,365.90 L286.74,369.25 L287.15,371.66 L287.57,373.12 L287.98,373.60 L288.40,373.11 L288.81,371.66 L289.23,369.23 L289.65,365.86 L290.06,361.57 L290.48,356.37 L290.90,350.30 L291.31,343.41 L291.73,335.72 L292.15,327.29 L292.56,318.18 L292.98,308.43 L293.40,298.11 L293.81,287.28 L294.23,276.00 L294.65,264.36 L295.06,252.41 L295.48,240.23 L295.90,227.90 L296.31,215.50 L296.73,203.10 L297.15,190.77 L297.57,178.59 L297.98,166.64 L298.40,155.00 L298.82,143.72 L299.23,132.89 L299.65,122.57 L300.07,112.82 L300.48,103.71 L300.90,95.28 L301.32,87.59 L301.73,80.70 L302.15,74.63 L302.57,69.43 L302.98,65.14 L303.40,61.77 L303.82,59.34 L304.23,57.89 L304.65,57.40 L305.07,57.89 L305.48,59.36 L305.90,61.81 L306.32,65.21 L306.74,69.56 L307.15,74.81 L307.57,80.93 L307.99,87.90 L308.41,95.66 L308.82,104.18 L309.24,113.39 L309.66,123.23 L310.07,133.66 L310.49,144.60 L310.91,155.99 L311.33,167.76 L311.74,179.83 L312.16,192.13 L312.58,204.58 L313.00,217.11 L313.41,229.64 L313.83,242.09 L314.25,254.39 L314.66,266.46 L315.08,278.23 L315.50,289.62 L315.92,300.56 L316.33,310.99 L316.75,320.83 L317.17,330.04 L317.58,338.56 L318.00,346.32 L318.42,353.29 L318.84,359.41 L319.25,364.66 L319.67,369.01 L320.09,372.41 L320.51,374.86 L320.92,376.33 L321.34,376.82 L321.75,376.32 L322.17,374.83 L322.58,372.36 L323.00,368.91 L323.41,364.52 L323.82,359.20 L324.24,353.00 L324.65,345.95 L325.07,338.09 L325.48,329.48 L325.89,320.16 L326.31,310.19 L326.72,299.64 L327.14,288.56 L327.55,277.04 L327.96,265.13 L328.38,252.91 L328.79,240.46 L329.21,227.86 L329.62,215.18 L330.03,202.50 L330.45,189.89 L330.86,177.44 L331.28,165.23 L331.69,153.32 L332.10,141.79 L332.52,130.72 L332.93,120.17 L333.35,110.20 L333.76,100.88 L334.17,92.26 L334.59,84.41 L335.00,77.35 L335.42,71.15 L335.83,65.84 L336.24,61.45 L336.66,58.00 L337.07,55.52 L337.49,54.03 L337.90,53.53 L338.31,54.01 L338.72,55.44 L339.13,57.81 L339.54,61.10 L339.95,65.31 L340.36,70.40 L340.77,76.35 L341.18,83.11 L341.59,90.66 L342.00,98.93 L342.41,107.90 L342.82,117.50 L343.23,127.68 L343.64,138.38 L344.05,149.53 L344.46,161.07 L344.87,172.94 L345.28,185.05 L345.69,197.35 L346.10,209.76 L346.50,222.21 L346.91,234.61 L347.32,246.91 L347.73,259.03 L348.14,270.89 L348.55,282.44 L348.96,293.59 L349.37,304.29 L349.78,314.46 L350.19,324.06 L350.60,333.03 L351.01,341.31 L351.42,348.85 L351.83,355.62 L352.24,361.56 L352.65,366.65 L353.06,370.86 L353.47,374.16 L353.88,376.53 L354.29,377.96 L354.70,378.43 L355.11,377.93 L355.52,376.41 L355.93,373.90 L356.35,370.40 L356.76,365.94 L357.17,360.55 L357.58,354.26 L357.99,347.10 L358.40,339.12 L358.81,330.38 L359.22,320.92 L359.64,310.80 L360.05,300.09 L360.46,288.85 L360.87,277.16 L361.28,265.07 L361.69,252.67 L362.10,240.04 L362.51,227.24 L362.93,214.37 L363.34,201.50 L363.75,188.71 L364.16,176.07 L364.57,163.68 L364.98,151.59 L365.39,139.89 L365.80,128.65 L366.21,117.94 L366.63,107.83 L367.04,98.37 L367.45,89.62 L367.86,81.65 L368.27,74.49 L368.68,68.20 L369.09,62.80 L369.50,58.34 L369.92,54.85 L370.33,52.33 L370.74,50.82 L371.15,50.31 L371.56,50.80 L371.97,52.25 L372.39,54.65 L372.80,58.00 L373.21,62.28 L373.62,67.45 L374.04,73.49 L374.45,80.36 L374.86,88.02 L375.27,96.43 L375.69,105.54 L376.10,115.30 L376.51,125.64 L376.92,136.50 L377.34,147.83 L377.75,159.56 L378.16,171.61 L378.57,183.92 L378.99,196.41 L379.40,209.02 L379.81,221.66 L380.22,234.26 L380.64,246.76 L381.05,259.07 L381.46,271.12 L381.87,282.85 L382.29,294.17 L382.70,305.04 L383.11,315.38 L383.52,325.13 L383.94,334.24 L384.35,342.65 L384.76,350.32 L385.17,357.19 L385.59,363.23 L386.00,368.40 L386.41,372.67 L386.82,376.02 L387.24,378.43 L387.65,379.88 L388.06,380.36 L388.48,379.83 L388.90,378.21 L389.32,375.54 L389.74,371.81 L390.15,367.07 L390.57,361.33 L390.99,354.64 L391.41,347.04 L391.83,338.58 L392.25,329.31 L392.67,319.29 L393.09,308.60 L393.51,297.29 L393.93,285.44 L394.34,273.13 L394.76,260.44 L395.18,247.45 L395.60,234.24 L396.02,220.90 L396.44,207.52 L396.86,194.18 L397.28,180.98 L397.70,167.99 L398.12,155.29 L398.53,142.98 L398.95,131.14 L399.37,119.83 L399.79,109.13 L400.21,99.11 L400.63,89.85 L401.05,81.38 L401.47,73.78 L401.89,67.09 L402.31,61.36 L402.72,56.61 L403.14,52.89 L403.56,50.21 L403.98,48.60 L404.40,48.06 L404.82,48.55 L405.23,50.03 L405.65,52.49 L406.06,55.91 L406.48,60.27 L406.89,65.55 L407.31,71.71 L407.72,78.72 L408.14,86.54 L408.55,95.13 L408.97,104.42 L409.38,114.37 L409.80,124.93 L410.21,136.02 L410.63,147.58 L411.04,159.54 L411.46,171.84 L411.87,184.40 L412.29,197.15 L412.70,210.02 L413.12,222.92 L413.53,235.78 L413.95,248.53 L414.36,261.09 L414.78,273.39 L415.19,285.36 L415.61,296.92 L416.02,308.01 L416.44,318.56 L416.85,328.51 L417.27,337.81 L417.68,346.39 L418.10,354.21 L418.51,361.22 L418.93,367.39 L419.34,372.66 L419.76,377.02 L420.17,380.44 L420.59,382.90 L421.00,384.38 L421.42,384.87 L421.84,384.32 L422.25,382.67 L422.67,379.94 L423.08,376.13 L423.50,371.28 L423.92,365.42 L424.33,358.58 L424.75,350.81 L425.17,342.16 L425.58,332.68 L426.00,322.44 L426.41,311.51 L426.83,299.94 L427.25,287.83 L427.66,275.25 L428.08,262.27 L428.49,248.99 L428.91,235.49 L429.33,221.86 L429.74,208.18 L430.16,194.54 L430.58,181.04 L430.99,167.76 L431.41,154.79 L431.82,142.20 L432.24,130.09 L432.66,118.53 L433.07,107.59 L433.49,97.35 L433.90,87.88 L434.32,79.23 L434.74,71.46 L435.15,64.62 L435.57,58.75 L435.99,53.90 L436.40,50.10 L436.82,47.36 L437.23,45.71 L437.65,45.16 L438.07,45.66 L438.49,47.17 L438.90,49.66 L439.32,53.14 L439.74,57.57 L440.16,62.93 L440.57,69.20 L440.99,76.32 L441.41,84.27 L441.83,92.99 L442.25,102.44 L442.66,112.55 L443.08,123.28 L443.50,134.55 L443.92,146.30 L444.33,158.46 L444.75,170.96 L445.17,183.72 L445.59,196.68 L446.01,209.75 L446.42,222.86 L446.84,235.93 L447.26,248.89 L447.68,261.65 L448.10,274.15 L448.51,286.31 L448.93,298.06 L449.35,309.33 L449.77,320.06 L450.18,330.17 L450.60,339.62 L451.02,348.34 L451.44,356.29 L451.86,363.41 L452.27,369.68 L452.69,375.04 L453.11,379.47 L453.53,382.95 L453.94,385.44 L454.36,386.95 L454.78,387.45 L455.19,386.89 L455.61,385.21 L456.02,382.43 L456.43,378.57 L456.85,373.64 L457.26,367.68 L457.67,360.73 L458.09,352.83 L458.50,344.04 L458.91,334.41 L459.33,324.01 L459.74,312.90 L460.15,301.15 L460.57,288.84 L460.98,276.06 L461.39,262.87 L461.81,249.38 L462.22,235.66 L462.63,221.81 L463.05,207.91 L463.46,194.05 L463.87,180.33 L464.29,166.84 L464.70,153.65 L465.11,140.87 L465.53,128.56 L465.94,116.81 L466.35,105.70 L466.77,95.30 L467.18,85.67 L467.59,76.88 L468.01,68.98 L468.42,62.03 L468.83,56.07 L469.25,51.15 L469.66,47.28 L470.07,44.50 L470.49,42.82 L470.90,42.26 L471.31,42.75 L471.72,44.21 L472.13,46.63 L472.54,50.00 L472.95,54.29 L473.36,59.50 L473.77,65.58 L474.18,72.51 L474.59,80.23 L475.00,88.72 L475.42,97.93 L475.83,107.79 L476.24,118.26 L476.65,129.28 L477.06,140.79 L477.47,152.72 L477.88,165.01 L478.29,177.58 L478.70,190.37 L479.11,203.30 L479.52,216.30 L479.93,229.31 L480.34,242.24 L480.75,255.03 L481.16,267.60 L481.57,279.89 L481.98,291.82 L482.39,303.33 L482.80,314.35 L483.21,324.82 L483.62,334.68 L484.04,343.89 L484.45,352.38 L484.86,360.10 L485.27,367.03 L485.68,373.11 L486.09,378.32 L486.50,382.61 L486.91,385.98 L487.32,388.40 L487.73,389.86 L488.14,390.35 L488.55,389.78 L488.96,388.07 L489.37,385.24 L489.78,381.31 L490.19,376.29 L490.60,370.23 L491.01,363.15 L491.42,355.12 L491.83,346.17 L492.25,336.37 L492.66,325.78 L493.07,314.48 L493.48,302.52 L493.89,290.00 L494.30,276.98 L494.71,263.56 L495.12,249.83 L495.53,235.87 L495.94,221.77 L496.35,207.62 L496.76,193.52 L497.17,179.56 L497.58,165.83 L497.99,152.41 L498.40,139.39 L498.81,126.87 L499.22,114.91 L499.63,103.61 L500.04,93.02 L500.46,83.22 L500.87,74.27 L501.28,66.24 L501.69,59.16 L502.10,53.10 L502.51,48.08 L502.92,44.15 L503.33,41.32 L503.74,39.61 L504.15,39.04 L504.56,39.54 L504.98,41.03 L505.39,43.49 L505.80,46.93 L506.22,51.31 L506.63,56.61 L507.04,62.81 L507.45,69.87 L507.87,77.75 L508.28,86.41 L508.69,95.79 L509.11,105.85 L509.52,116.52 L509.93,127.75 L510.35,139.49 L510.76,151.65 L511.17,164.17 L511.59,176.99 L512.00,190.02 L512.41,203.21 L512.83,216.47 L513.24,229.72 L513.65,242.91 L514.06,255.95 L514.48,268.76 L514.89,281.29 L515.30,293.45 L515.72,305.18 L516.13,316.41 L516.54,327.09 L516.96,337.14 L517.37,346.53 L517.78,355.18 L518.20,363.06 L518.61,370.12 L519.02,376.32 L519.43,381.62 L519.85,386.01 L520.26,389.44 L520.67,391.91 L521.09,393.39 L521.50,393.89 L521.92,393.28 L522.34,391.45 L522.76,388.41 L523.17,384.20 L523.59,378.82 L524.01,372.33 L524.43,364.76 L524.85,356.17 L525.27,346.62 L525.68,336.16 L526.10,324.88 L526.52,312.85 L526.94,300.15 L527.36,286.87 L527.78,273.10 L528.19,258.93 L528.61,244.46 L529.03,229.79 L529.45,215.02 L529.87,200.25 L530.29,185.58 L530.71,171.11 L531.12,156.94 L531.54,143.17 L531.96,129.88 L532.38,117.18 L532.80,105.15 L533.22,93.87 L533.63,83.42 L534.05,73.86 L534.47,65.27 L534.89,57.70 L535.31,51.21 L535.73,45.84 L536.14,41.62 L536.20,41.22" stroke="#00ff00" stroke-width="2.4" stroke-dasharray="2.4 2.1"/>
</g>
<rect x="402.95" y="22.55" width="132.95" height="60.45" fill="#ffffff" stroke="#404040" stroke-width="1.6"/>
<line x1="407.4" y1="34.5" x2="452.6" y2="34.5" stroke="#0000ff" stroke-width="2.4"/>
<line x1="407.4" y1="53" x2="452.6" y2="53" stroke="#ff0000" stroke-width="2.4" stroke-dasharray="8.9 9.1"/>
<line x1="407.4" y1="72" x2="452.6" y2="72" stroke="#00ff00" stroke-width="2.4" stroke-dasharray="2.4 2.11"/>
<g font-size="13.6" fill="#000000">
<text x="455.2" y="40.8"><tspan font-style="italic" font-family="DejaVu Sans, sans-serif" font-size="12.2">τ</tspan><tspan x="466.7">=0.7273 s</tspan></text>
<text x="455.2" y="59.3"><tspan font-style="italic" font-family="DejaVu Sans, sans-serif" font-size="12.2">τ</tspan><tspan x="466.7">= 0.7000 s</tspan></text>
<text x="455.2" y="77.4"><tspan font-style="italic" font-family="DejaVu Sans, sans-serif" font-size="12.2">τ</tspan><tspan x="466.7">= 0.8000 s</tspan></text>
</g>
<g font-size="15.2" fill="#262626">
<text x="47.00" y="430.8" text-anchor="middle">0</text>
<text x="95.92" y="430.8" text-anchor="middle">5</text>
<text x="144.84" y="430.8" text-anchor="middle">10</text>
<text x="193.76" y="430.8" text-anchor="middle">15</text>
<text x="242.68" y="430.8" text-anchor="middle">20</text>
<text x="291.60" y="430.8" text-anchor="middle">25</text>
<text x="340.52" y="430.8" text-anchor="middle">30</text>
<text x="389.44" y="430.8" text-anchor="middle">35</text>
<text x="438.36" y="430.8" text-anchor="middle">40</text>
<text x="487.28" y="430.8" text-anchor="middle">45</text>
<text x="536.20" y="430.8" text-anchor="middle">50</text>
<text x="40.6" y="415.30" text-anchor="end">-6</text>
<text x="40.6" y="350.90" text-anchor="end">-4</text>
<text x="40.6" y="286.50" text-anchor="end">-2</text>
<text x="40.6" y="222.10" text-anchor="end">0</text>
<text x="40.6" y="157.70" text-anchor="end">2</text>
<text x="40.6" y="93.30" text-anchor="end">4</text>
<text x="40.6" y="28.90" text-anchor="end">6</text>
<text x="48.0" y="20.6" font-size="16.2">×</text><text x="60.0" y="19.1">10</text><text x="75.9" y="13.4" font-size="11.8">-4</text>
</g>
<g font-size="16.5" fill="#262626">
<text x="291.8" y="452.6" text-anchor="middle">Time, seconds</text>
<text transform="translate(18.2,216.3) rotate(-90)" text-anchor="middle">Δf, (p.u)</text>
</g>
</svg></body></html>
